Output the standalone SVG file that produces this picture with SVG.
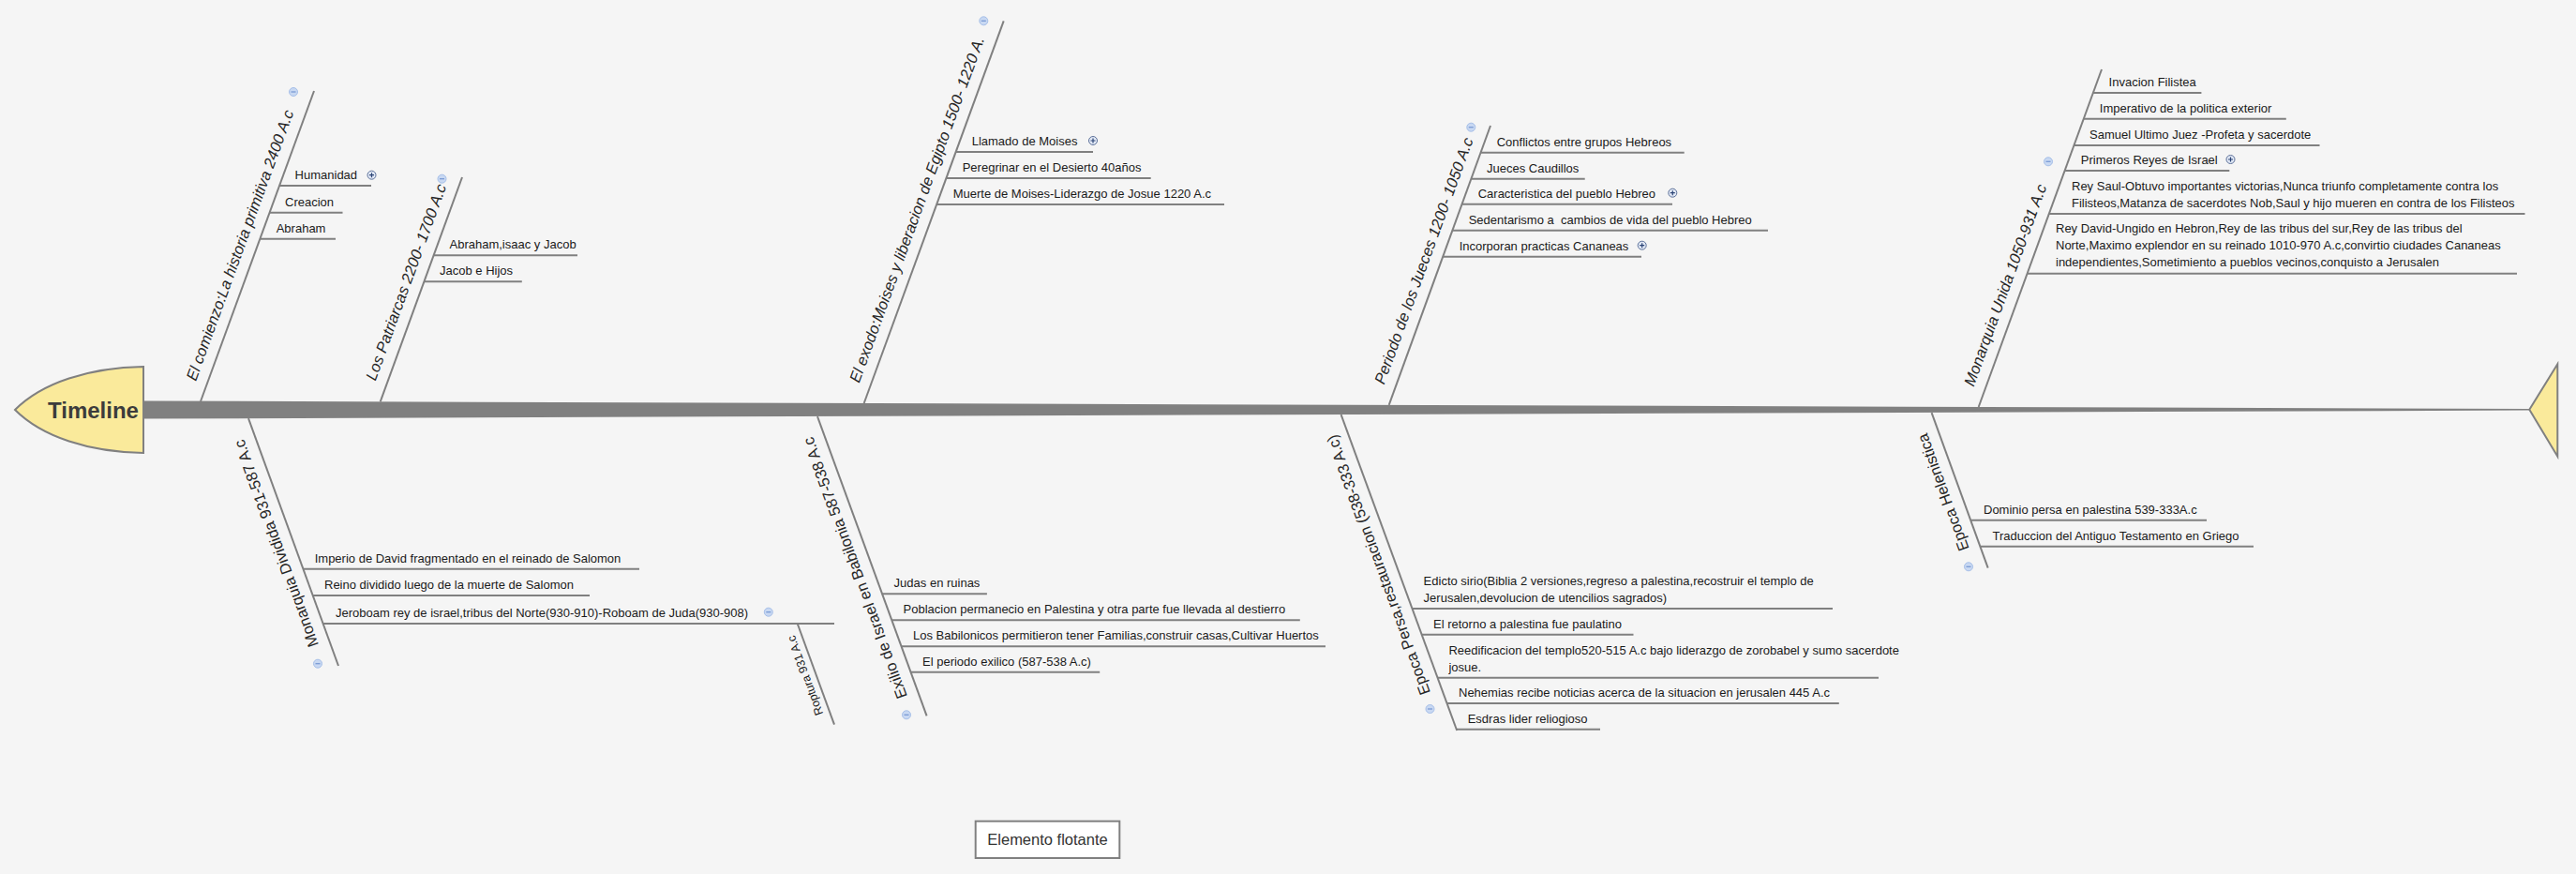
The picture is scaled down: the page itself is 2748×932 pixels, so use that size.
<svg xmlns="http://www.w3.org/2000/svg" width="2748" height="932" viewBox="0 0 2748 932">
<style>
.t{font-family:"Liberation Sans",Arial,sans-serif;font-size:13px;fill:#1a1a1a}
.mt{font-family:"Liberation Sans",Arial,sans-serif;font-size:16.5px;fill:#262626}
.it{font-style:italic}
.pre{white-space:pre}
.bone{stroke:#808080;stroke-width:2;fill:none}
.ul{stroke:#808080;stroke-width:2;fill:none}
</style>
<defs>
<g id="minus"><circle r="4.5" fill="#c8d8f2" stroke="#a6bfe8" stroke-width="1"/><line x1="-2.5" y1="0" x2="2.5" y2="0" stroke="#7b9bd4" stroke-width="1.3"/></g>
<g id="plus"><circle r="4.5" fill="#e2e9f6" stroke="#5d7199" stroke-width="1"/><path d="M-2.5,0H2.5M0,-2.5V2.5" stroke="#2d4677" stroke-width="1.2"/></g>
</defs>
<rect width="2748" height="932" fill="#f5f5f5"/>

<g id="connectors">
<line class="bone" x1="214" y1="428" x2="335" y2="97"/>
<line class="bone" x1="405.7" y1="428.3" x2="493" y2="189"/>
<line class="bone" x1="921.7" y1="430" x2="1070.7" y2="22.3"/>
<line class="bone" x1="1481.7" y1="431.9" x2="1590" y2="134"/>
<line class="bone" x1="2110.7" y1="434" x2="2242" y2="74"/>
<line class="bone" x1="265" y1="446.1" x2="361" y2="710"/>
<line class="bone" x1="872" y1="444.1" x2="988.6" y2="763.3"/>
<line class="bone" x1="1430.6" y1="442.2" x2="1554.2" y2="779"/>
<line class="bone" x1="2060.6" y1="440.1" x2="2120.7" y2="605.7"/>
<line class="bone" x1="850.7" y1="665" x2="890" y2="772.7"/>
<polygon points="152,427.5 2698,435.9 2698,437.6 152,446.5" fill="#808080"/>
</g>

<g id="timeline">
<path d="M153,391 C95,392 45,408 16,437 C45,466 95,482 153,483 Z" fill="#faea9b" stroke="#808080" stroke-width="2"/>
<text x="51" y="446" font-family="Liberation Sans, Arial, sans-serif" font-size="24" font-weight="bold" fill="#3c3c3c">Timeline</text>
</g>

<g id="tail">
<polygon points="2698.3,436.7 2728.3,388.3 2728.3,486.7" fill="#faea9b" stroke="#808080" stroke-width="2" stroke-linejoin="miter"/>
</g>

<!-- Top bones -->
<g id="comienzo">
<text class="mt it" transform="translate(208.9,407) rotate(-70)">El comienzo:La historia primitiva 2400 A.c</text>
<use href="#minus" x="313" y="98"/>
</g>
<g id="humanidad"><line class="ul" x1="298" y1="198" x2="396" y2="198"/><text class="t" x="314.6" y="191">Humanidad</text><use href="#plus" x="396.5" y="186.7"/></g>
<g id="creacion"><line class="ul" x1="287.6" y1="226.7" x2="365.5" y2="226.7"/><text class="t" x="304" y="219.7">Creacion</text></g>
<g id="abraham"><line class="ul" x1="277.4" y1="254.7" x2="358" y2="254.7"/><text class="t" x="294.7" y="247.7">Abraham</text></g>

<g id="patriarcas">
<text class="mt it" transform="translate(400.6,406.7) rotate(-70)">Los Patriarcas 2200- 1700 A.c</text>
<use href="#minus" x="471.5" y="190.7"/>
</g>
<g id="abraham-isaac"><line class="ul" x1="462.5" y1="272.3" x2="616" y2="272.3"/><text class="t" x="479.5" y="265.3">Abraham,isaac y Jacob</text></g>
<g id="jacob"><line class="ul" x1="452.3" y1="300.3" x2="556.8" y2="300.3"/><text class="t" x="469" y="293.3">Jacob e Hijos</text></g>

<g id="exodo">
<text class="mt it" transform="translate(916.6,409) rotate(-70)">El exodo:Moises y liberacion de Egipto 1500- 1220 A.</text>
<use href="#minus" x="1049.3" y="22.3"/>
</g>
<g id="llamado"><line class="ul" x1="1019.7" y1="162" x2="1166" y2="162"/><text class="t" x="1036.7" y="155">Llamado de Moises</text><use href="#plus" x="1166" y="150"/></g>
<g id="peregrinar"><line class="ul" x1="1009.4" y1="190" x2="1227.7" y2="190"/><text class="t" x="1026.7" y="183">Peregrinar en el Desierto 40años</text></g>
<g id="muerte"><line class="ul" x1="999.2" y1="218" x2="1306" y2="218"/><text class="t" x="1016.7" y="211">Muerte de Moises-Liderazgo de Josue 1220 A.c</text></g>

<g id="jueces">
<text class="mt it" transform="translate(1476.6,410.7) rotate(-70)">Periodo de los Jueces 1200- 1050 A.c</text>
<use href="#minus" x="1569.3" y="135.7"/>
</g>
<g id="conflictos"><line class="ul" x1="1579.6" y1="162.7" x2="1796.7" y2="162.7"/><text class="t" x="1596.7" y="155.7">Conflictos entre grupos Hebreos</text></g>
<g id="caudillos"><line class="ul" x1="1569.4" y1="190.7" x2="1690.7" y2="190.7"/><text class="t" x="1586" y="183.7">Jueces Caudillos</text></g>
<g id="caracteristica"><line class="ul" x1="1559.5" y1="217.7" x2="1784" y2="217.7"/><text class="t" x="1576.7" y="210.7">Caracteristica del pueblo Hebreo</text><use href="#plus" x="1784.3" y="205.7"/></g>
<g id="sedentarismo"><line class="ul" x1="1549.4" y1="245.7" x2="1886" y2="245.7"/><text class="t pre" x="1566.7" y="238.7">Sedentarismo a  cambios de vida del pueblo Hebreo</text></g>
<g id="incorporan"><line class="ul" x1="1539.2" y1="273.7" x2="1751" y2="273.7"/><text class="t" x="1556.7" y="266.7">Incorporan practicas Cananeas</text><use href="#plus" x="1751.7" y="261.7"/></g>

<g id="monarquia-unida">
<text class="mt it" transform="translate(2105.6,413) rotate(-70)">Monarquia Unida 1050-931 A.c</text>
<use href="#minus" x="2185" y="172.3"/>
</g>
<g id="invacion"><line class="ul" x1="2232.9" y1="99" x2="2348.4" y2="99"/><text class="t" x="2249.6" y="92">Invacion Filistea</text></g>
<g id="imperativo"><line class="ul" x1="2222.8" y1="126.7" x2="2438.8" y2="126.7"/><text class="t" x="2239.8" y="119.7">Imperativo de la politica exterior</text></g>
<g id="samuel"><line class="ul" x1="2212.5" y1="155" x2="2474.5" y2="155"/><text class="t" x="2229" y="148">Samuel Ultimo Juez -Profeta y sacerdote</text></g>
<g id="primeros-reyes"><line class="ul" x1="2202.6" y1="182" x2="2378.3" y2="182"/><text class="t" x="2219.8" y="175">Primeros Reyes de Israel</text><use href="#plus" x="2379.5" y="170"/></g>
<g id="rey-saul"><line class="ul" x1="2185.8" y1="228" x2="2693.5" y2="228"/><text class="t" x="2210" y="202.5"><tspan x="2210">Rey Saul-Obtuvo importantes victorias,Nunca triunfo completamente contra los</tspan><tspan x="2210" dy="18">Filisteos,Matanza de sacerdotes Nob,Saul y hijo mueren en contra de los Filisteos</tspan></text></g>
<g id="rey-david"><line class="ul" x1="2162.6" y1="291.7" x2="2685" y2="291.7"/><text class="t" x="2193" y="248.2"><tspan x="2193">Rey David-Ungido en Hebron,Rey de las tribus del sur,Rey de las tribus del</tspan><tspan x="2193" dy="18">Norte,Maximo explendor en su reinado 1010-970 A.c,convirtio ciudades Cananeas</tspan><tspan x="2193" dy="18">independientes,Sometimiento a pueblos vecinos,conquisto a Jerusalen</tspan></text></g>

<!-- Bottom bones -->
<g id="monarquia-dividida">
<text class="mt" text-anchor="end" transform="translate(259.9,467.7) rotate(-110)">Monarquia Dividida 931-587 A.c</text>
<use href="#minus" x="339" y="707.7"/>
</g>
<g id="imperio"><line class="ul" x1="323.3" y1="606.7" x2="682" y2="606.7"/><text class="t" x="335.7" y="599.7">Imperio de David fragmentado en el reinado de Salomon</text></g>
<g id="reino"><line class="ul" x1="333.7" y1="635" x2="629" y2="635"/><text class="t" x="346" y="628">Reino dividido luego de la muerte de Salomon</text></g>
<g id="jeroboam"><line class="ul" x1="344.6" y1="665" x2="890" y2="665"/><text class="t" x="358" y="658">Jeroboam rey de israel,tribus del Norte(930-910)-Roboam de Juda(930-908)</text><use href="#minus" x="819.8" y="652.7"/></g>
<g id="ruptura">
<text class="t" font-size="12.5" text-anchor="end" transform="translate(847.5,676.8) rotate(-110)" style="font-size:12.5px">Roptura 931 A.c</text>
</g>

<g id="exilio">
<text class="mt" text-anchor="end" transform="translate(866.9,465) rotate(-110)">Exilio de Israel en Babilonia 587-538 A.c</text>
<use href="#minus" x="967" y="762.3"/>
</g>
<g id="judas"><line class="ul" x1="941.1" y1="633.3" x2="1052.9" y2="633.3"/><text class="t" x="953.6" y="626.3">Judas en ruinas</text></g>
<g id="poblacion"><line class="ul" x1="951.4" y1="661.3" x2="1386.8" y2="661.3"/><text class="t" x="963.6" y="654.3">Poblacion permanecio en Palestina y otra parte fue llevada al destierro</text></g>
<g id="babilonicos"><line class="ul" x1="961.6" y1="689.3" x2="1414" y2="689.3"/><text class="t" x="974" y="682.3">Los Babilonicos permitieron tener Familias,construir casas,Cultivar Huertos</text></g>
<g id="periodo-exilico"><line class="ul" x1="971.8" y1="716.7" x2="1173.2" y2="716.7"/><text class="t" x="984" y="709.7">El periodo exilico (587-538 A.c)</text></g>

<g id="epoca-persa">
<text class="mt" text-anchor="end" transform="translate(1425.5,462.7) rotate(-110)">Epoca Persa,restauracion (538-333 A.c)</text>
<use href="#minus" x="1525.5" y="756"/>
</g>
<g id="edicto"><line class="ul" x1="1506.6" y1="649" x2="1955" y2="649"/><text class="t" x="1518.6" y="623.5"><tspan x="1518.6">Edicto sirio(Biblia 2 versiones,regreso a palestina,recostruir el templo de</tspan><tspan x="1518.6" dy="18">Jerusalen,devolucion de utencilios sagrados)</tspan></text></g>
<g id="retorno"><line class="ul" x1="1516.7" y1="676.7" x2="1742.5" y2="676.7"/><text class="t" x="1529" y="669.7">El retorno a palestina fue paulatino</text></g>
<g id="reedificacion"><line class="ul" x1="1533.6" y1="722.7" x2="2004" y2="722.7"/><text class="t" x="1545.4" y="697.5"><tspan x="1545.4">Reedificacion del templo520-515 A.c bajo liderazgo de zorobabel y sumo sacerdote</tspan><tspan x="1545.4" dy="18">josue.</tspan></text></g>
<g id="nehemias"><line class="ul" x1="1543.7" y1="750" x2="1961.8" y2="750"/><text class="t" x="1556" y="743">Nehemias recibe noticias acerca de la situacion en jerusalen 445 A.c</text></g>
<g id="esdras"><line class="ul" x1="1553.8" y1="777.7" x2="1707" y2="777.7"/><text class="t" x="1565.7" y="770.7">Esdras lider reliogioso</text></g>

<g id="helenistica">
<text class="mt" text-anchor="end" transform="translate(2055.5,461) rotate(-110)">Epoca Helenistica</text>
<use href="#minus" x="2100" y="604.3"/>
</g>
<g id="dominio"><line class="ul" x1="2102.2" y1="554.7" x2="2354" y2="554.7"/><text class="t" x="2116" y="547.7">Dominio persa en palestina 539-333A.c</text></g>
<g id="traduccion"><line class="ul" x1="2112.4" y1="582.7" x2="2404" y2="582.7"/><text class="t" x="2125.5" y="575.7">Traduccion del Antiguo Testamento en Griego</text></g>

<g id="elemento-flotante">
<rect x="1040.7" y="875.7" width="153.6" height="39.3" fill="#ffffff" stroke="#808080" stroke-width="2"/>
<text x="1117.5" y="900.5" text-anchor="middle" font-family="Liberation Sans, Arial, sans-serif" font-size="16.5" fill="#333333">Elemento flotante</text>
</g>
</svg>
